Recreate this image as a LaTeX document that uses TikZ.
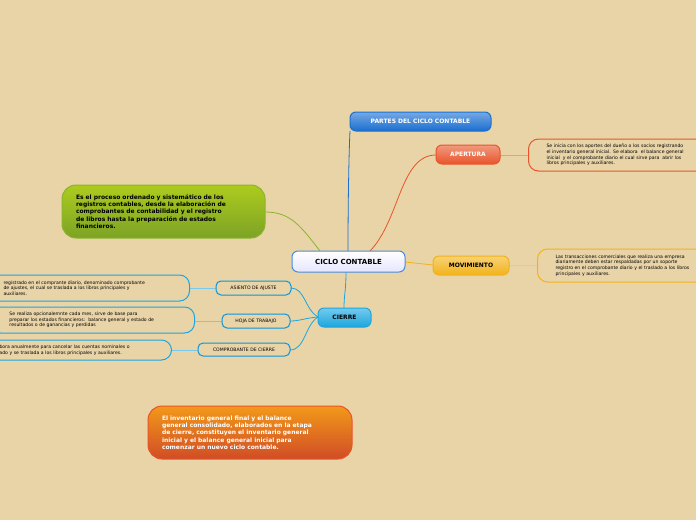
\documentclass[tikz,border=0pt]{standalone}
\usepackage{fontspec}
\setmainfont{DejaVu Sans}
\begin{document}
\begin{tikzpicture}[x=1pt,y=-1pt,
 every node/.style={inner sep=0pt},
 topic/.style={rounded corners=6pt,line width=1pt,align=center,font=\fontsize{6}{7}\selectfont\bfseries},
 sub/.style={rounded corners=5pt,line width=1pt,draw=cyan!80!blue,align=center,font=\fontsize{4.6}{5.5}\selectfont},
 txt/.style={rounded corners=10pt,line width=1pt,fill=none,align=left,font=\fontsize{4.6}{5.6}\selectfont},
 con/.style={line width=0.8pt}]
\definecolor{bg}{HTML}{E9D4A8}
\definecolor{blu}{HTML}{1A6FD0}
\definecolor{org}{HTML}{E8552A}
\definecolor{yel}{HTML}{F2B31A}
\definecolor{cya}{HTML}{1BA6DF}
\definecolor{grn}{HTML}{8AB52A}
\clip (0,0) rectangle (696,520);
\fill[bg] (0,0) rectangle (696,520);
% connectors
\draw[con,blu] (348,251) .. controls (348,200) and (349,150) .. (350,131);
\draw[con,org] (370,251) .. controls (400,220) and (400,155) .. (436,155);
\draw[con,yel] (405,262) -- (433,265);
\draw[con,cya] (346,272) .. controls (346,290) and (344,295) .. (344,308);
\draw[con,grn] (320,251) .. controls (300,225) and (290,212) .. (265,212);
\draw[con,cya] (318,317) .. controls (305,310) and (305,288) .. (291,288);
\draw[con,cya] (318,317) .. controls (305,318) and (300,321) .. (290,321);
\draw[con,cya] (318,317) .. controls (305,325) and (305,350) .. (290,350);
\draw[con,cya!60] (216,288) -- (189,288);
\draw[con,cya!60] (222,321) -- (194,321);
\draw[con,cya!60] (198,350) -- (171,350);
\draw[con,org!60] (500,155) -- (528,155);
\draw[con,yel!70] (509,265) -- (537,265);
% nodes
\node[topic,draw=blu!80!white,top color=white,bottom color=blue!10,minimum width=113,minimum height=21,font=\fontsize{7}{8}\selectfont\bfseries] (c) at (348.5,261.5) {CICLO CONTABLE};
\node[topic,draw=blu,top color=blu!60,bottom color=blu,text=white,minimum width=141,minimum height=19] (p) at (420.5,121.5) {PARTES DEL CICLO CONTABLE};
\node[topic,draw=org,top color=org!60,bottom color=org,text=white,minimum width=64,minimum height=19] (a) at (468,154.5) {APERTURA};
\node[topic,draw=yel,top color=yel!60,bottom color=yel,minimum width=76,minimum height=19] (m) at (471,265.5) {MOVIMIENTO};
\node[topic,draw=cya,top color=cya!60,bottom color=cya,minimum width=53,minimum height=19] (ci) at (344.5,317.5) {CIERRE};
\node[sub,minimum width=75,minimum height=14] (s1) at (253.5,288) {ASIENTO DE AJUSTE};
\node[sub,minimum width=68,minimum height=14] (s2) at (256,321) {HOJA DE TRABAJO};
\node[sub,minimum width=92,minimum height=13] (s3) at (244,349.5) {COMPROBANTE DE CIERRE};
\node[txt,draw=cya,minimum width=209,minimum height=26,anchor=west,text width=195,inner xsep=7pt] (t1) at (-20,288) {\hspace*{16pt}registrado en el comprante diario, denominado comprobante\\ \hspace*{16pt}de ajustes, el cual se traslada a los libros principales y\\ \hspace*{16pt}auxiliares.};
\node[txt,draw=cya,minimum width=204,minimum height=26,anchor=west,text width=190,inner xsep=7pt] (t2) at (-10,320) {\hspace*{12pt}Se realiza opcionalemnte cada mes, sirve de base para\\ \hspace*{12pt}preparar los estados financieros:\ \ balance general y estado de\\ \hspace*{12pt}resultados o de ganancias y perdidas};
\node[txt,draw=cya,minimum width=191,minimum height=20,anchor=west,text width=177,inner xsep=7pt] (t3) at (-20,350) {\hspace*{12pt}bora anualmente para cancelar las cuentas nominales o\\ \hspace*{6pt}ultado y se traslada a los libros principales y auxiliares.};
\node[txt,draw=org,minimum width=200,minimum height=32,anchor=west,text width=180,inner xsep=18pt] (ta) at (528,155) {Se inicia con los aportes del dueño o los socios registrando\\ el inventario general inicial. Se elabora\ \ el balance general\\ inicial\ \ y el comprobante diario el cual sirve para\ \ abrir los\\ libros principales y auxiliares.};
\node[txt,draw=yel,minimum width=200,minimum height=33,anchor=west,text width=180,inner xsep=18pt] (tm) at (537,265.5) {Las transacciones comerciales que realiza una empresa\\ diariamente deben estar respaldadas por un soporte\\ registro en el comprobante diario y el traslado a los libros\\ principales y auxiliares.};
\node[topic,draw=grn,top color=grn!70!yellow,bottom color=grn!90!black,minimum width=203,minimum height=53,rounded corners=14pt,text width=175,align=left,font=\fontsize{6}{7.3}\selectfont\bfseries] (g) at (163.5,211.5) {Es el proceso ordenado y sistemático de los\\ registros contables, desde la elaboración de\\ comprobantes de contabilidad y el registro\\ de libros hasta la preparación de estados\\ financieros.};
\node[topic,draw=org,top color=org!60!yellow,bottom color=org!90!black,text=white,minimum width=204,minimum height=53,rounded corners=14pt,text width=176,align=left,font=\fontsize{6}{7.3}\selectfont\bfseries] (r) at (250,432.5) {El inventario general final y el balance\\ general consolidado, elaborados en la etapa\\ de cierre, constituyen el inventario general\\ inicial y el balance general inicial para\\ comenzar un nuevo ciclo contable.};
\end{tikzpicture}
\end{document}
